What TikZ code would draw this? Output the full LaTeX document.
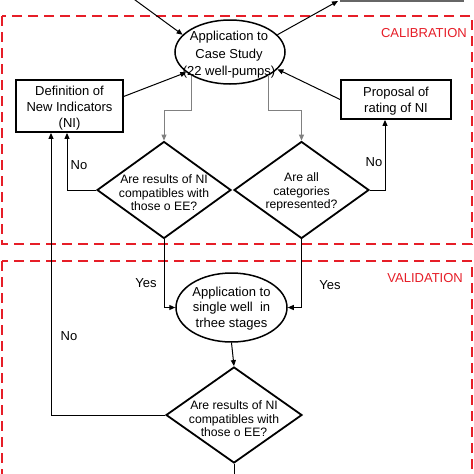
\documentclass[tikz,border=0pt]{standalone}
\usepackage{fontspec}
\setmainfont{Liberation Sans}
\usetikzlibrary{shapes.geometric,arrows.meta,calc}
\definecolor{calred}{RGB}{230,30,40}
\begin{document}
\begin{tikzpicture}[x=1pt,y=-1pt,
  box/.style={draw,line width=1.8pt,rectangle,inner sep=0},
  ell/.style={draw,line width=1.5pt,ellipse,inner sep=0},
  dia/.style={draw,line width=1.8pt,diamond,inner sep=0},
  txt/.style={font=\fontsize{13}{16}\selectfont,align=center,inner sep=0},
  dtxt/.style={font=\fontsize{12.2}{13.6}\selectfont,align=center,inner sep=0},
  conn/.style={line width=1pt,-{Triangle[length=6pt,width=5pt]}},
  gconn/.style={conn,draw=gray},
  zone/.style={draw=calred,line width=2.5pt,dash pattern=on 10pt off 6pt},
  zlabel/.style={text=calred,font=\fontsize{13}{15}\selectfont,inner sep=0},
]
\useasboundingbox (0,0) rectangle (474,474);
\clip (0,0) rectangle (474,474);
\fill[white] (0,0) rectangle (474,474);
% zones
\draw[zone] (2,16) rectangle (472,244);
\draw[zone] (2,261) rectangle (472,490);
\node[zlabel,anchor=east] (calib) at (467,33) {CALIBRATION};
\node[zlabel,anchor=east] (valid) at (463,278) {VALIDATION};
% shapes
\node[draw=gray!80!black,line width=2pt,minimum width=122pt,minimum height=30pt] (topbox) at (401.5,-14) {};
\node[ell,minimum width=110pt,minimum height=64pt] (e1) at (230,52) {};
\node[txt,font=\fontsize{13}{17.5}\selectfont] (e1t) at (229,55) {Application to\\Case Study\\(22 well-pumps)};
\node[box,minimum width=107pt,minimum height=52pt] (def) at (69.5,106) {};
\node[txt] (deft) at (69.5,108.5) {Definition of\\New Indicators\\(NI)};
\node[box,minimum width=110pt,minimum height=39pt] (prop) at (396,99.5) {};
\node[txt] (propt) at (396,101) {Proposal of\\rating of NI};
\node[dia,minimum width=134pt,minimum height=97pt] (d1) at (164,190) {};
\node[dtxt] (d1t) at (164,193) {Are results of NI\\compatibles with\\those o EE?};
\node[dia,minimum width=135pt,minimum height=97pt] (d2) at (301.5,190) {};
\node[dtxt] (d2t) at (301.5,192) {Are all\\categories\\represented?};
\node[ell,minimum width=111pt,minimum height=69pt] (e2) at (231.5,307.5) {};
\node[txt,font=\fontsize{13}{15.5}\selectfont] (e2t) at (231.5,308.5) {Application to\\single well\ \ in\\trhee stages};
\node[dia,minimum width=136pt,minimum height=96pt] (d3) at (234,415) {};
\node[dtxt] (d3t) at (234,419) {Are results of NI\\compatibles with\\those o EE?};
% coordinates
\coordinate (tl) at (131,-3);
\coordinate (tr) at (338,1);
\coordinate (gy) at (0,110);
\coordinate (bot) at (0,480);
% connectors
\draw[conn] (tl) -- (e1.160);
\draw[conn] (e1.20) -- (tr);
\draw[conn] (def.10) -- (e1.205);
\draw[conn] (prop.west) -- (e1.340);
\draw[gconn] (e1.212) -- (e1.212 |- gy) -| (d1.north);
\draw[gconn] (e1.329) -- (e1.329 |- gy) -| (d2.north);
\draw[conn] (d1.south) |- (e2.west);
\draw[conn] (d2.south) |- (e2.east);
\draw[conn] (d1.west) -| ([xshift=-2.5pt]def.south);
\draw[conn] (d2.east) -| ([xshift=-11pt]prop.south);
\draw[conn] (e2.south) -- (d3.north);
\draw[conn] (d3.west) -| ([xshift=-18.5pt]def.south);
\draw[line width=1pt] (d3.south) -- (d3.south |- bot);
% labels
\node[txt] (no1) at (79,165) {No};
\node[txt] (no2) at (374,162) {No};
\node[txt] (yes1) at (146,283) {Yes};
\node[txt] (yes2) at (330,285) {Yes};
\node[txt] (no3) at (69,336) {No};
\end{tikzpicture}
\end{document}
